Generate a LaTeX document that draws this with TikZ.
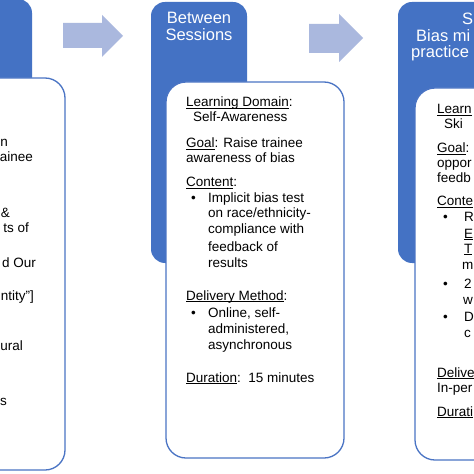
\documentclass[tikz,border=0pt]{standalone}
\usepackage{fontspec}
\setmainfont{Liberation Sans}
\definecolor{tabblue}{HTML}{4472C4}
\definecolor{boxline}{HTML}{4A74C4}
\definecolor{arrowfill}{HTML}{AAB8DE}
\newcommand\undl[1]{\setbox0\hbox{#1}\rlap{\rule[-1.9bp]{\wd0}{0.9bp}}#1}
\begin{document}
\begin{tikzpicture}[x=1bp,y=-1bp,
  tab/.style={fill=tabblue, draw=none, rounded corners=14bp},
  panel/.style={fill=white, draw=boxline, line width=1.3bp, rounded corners=20bp},
  blockarrow/.style={fill=arrowfill, draw=none},
  body/.style={anchor=base west, inner sep=0pt, font=\fontsize{13.5bp}{15.5bp}\selectfont, text=black},
  bodyr/.style={body, anchor=base east},
  head/.style={anchor=base, inner sep=0pt, font=\fontsize{16.5bp}{18bp}\selectfont, text=white},
  headw/.style={head, anchor=base west}]
\useasboundingbox (0,0) rectangle (474,474);
\clip (0,0) rectangle (474,474);
\fill[white] (0,0) rectangle (474,474);

% ---------- panel 1 (cut off on the left)
\path[tab] (-40,-1) rectangle (32,263);
\path[panel] (-40,78) rectangle (65,470);
\node[bodyr] (a1) at (8,147) {n};
\node[bodyr] (a2) at (33,162) {ainee};
\node[bodyr] (a3) at (10,218) {\&};
\node[bodyr] (a4) at (29,233) {ts of};
\node[bodyr] (a5) at (36,267) {d Our};
\node[bodyr] (a6) at (34,300) {ntity”]};
\node[bodyr] (a7) at (23,350) {ural};
\node[bodyr] (a8) at (7,405) {s};

% ---------- arrow 1
\path[blockarrow] (63,23) -- (102,23) -- (102,15) -- (123,36) -- (102,57) -- (102,48) -- (63,48) -- cycle;

% ---------- panel 2
\path[tab] (151,2) rectangle (247,263);
\path[panel] (166,82) rectangle (344,458);
\node[head] (b0) at (199,24) {Between};
\node[head] (b00) at (199,41) {Sessions};
\node[body] (b1) at (186,107) {\undl{Learning Domain}:};
\node[body] (b2) at (193,122) {Self-Awareness};
\node[body] (b3) at (186,148) {\undl{Goal}: Raise trainee};
\node[body] (b4) at (186,163) {awareness of bias};
\node[body] (b5) at (186,187) {\undl{Content}:};
\node[body] (b6) at (191,203) {•};
\node[body] (b7) at (208,203) {Implicit bias test};
\node[body] (b8) at (208,218) {on race/ethnicity-};
\node[body] (b9) at (208,234) {compliance with};
\node[body] (b10) at (208,251) {feedback of};
\node[body] (b11) at (208,267) {results};
\node[body] (b12) at (186,300) {\undl{Delivery Method}:};
\node[body] (b13) at (191,317) {•};
\node[body] (b14) at (208,317) {Online, self-};
\node[body] (b15) at (208,333) {administered,};
\node[body] (b16) at (208,349) {asynchronous};
\node[body] (b17) at (186,382) {\undl{Duration}:\ \ 15 minutes};

% ---------- arrow 2
\path[blockarrow] (309,24) -- (339,24) -- (339,14) -- (363,38) -- (339,62) -- (339,53) -- (309,53) -- cycle;

% ---------- panel 3 (cut off on the right)
\path[tab] (398,2) rectangle (540,263);
\path[panel] (415,88) rectangle (540,460);
\node[headw] (c01) at (462,25) {S};
\node[headw] (c02) at (416,42) {Bias mi};
\node[headw] (c03) at (411,58) {practice};
\node[body] (c1) at (437,114) {\undl{Learn}};
\node[body] (c2) at (444,129) {Ski};
\node[body] (c3) at (437,153) {\undl{Goal}:};
\node[body] (c4) at (437,168) {oppor};
\node[body] (c5) at (437,183) {feedb};
\node[body] (c6) at (437,206) {\undl{Conte}};
\node[body] (c7) at (443,222) {•};
\node[body] (c8) at (464,222) {R};
\node[body] (c9) at (464,238) {\undl{E}};
\node[body] (c10) at (464,253) {\undl{T}};
\node[body] (c11) at (462,269) {m};
\node[body] (c12) at (443,288) {•};
\node[body] (c13) at (464,288) {2};
\node[body] (c14) at (463,304) {w};
\node[body] (c15) at (443,321) {•};
\node[body] (c16) at (464,321) {D};
\node[body] (c17) at (464,337) {c};
\node[body] (c18) at (437,377) {\undl{Delive}};
\node[body] (c19) at (437,392) {In-per};
\node[body] (c20) at (437,416) {\undl{Durati}};
\end{tikzpicture}
\end{document}
